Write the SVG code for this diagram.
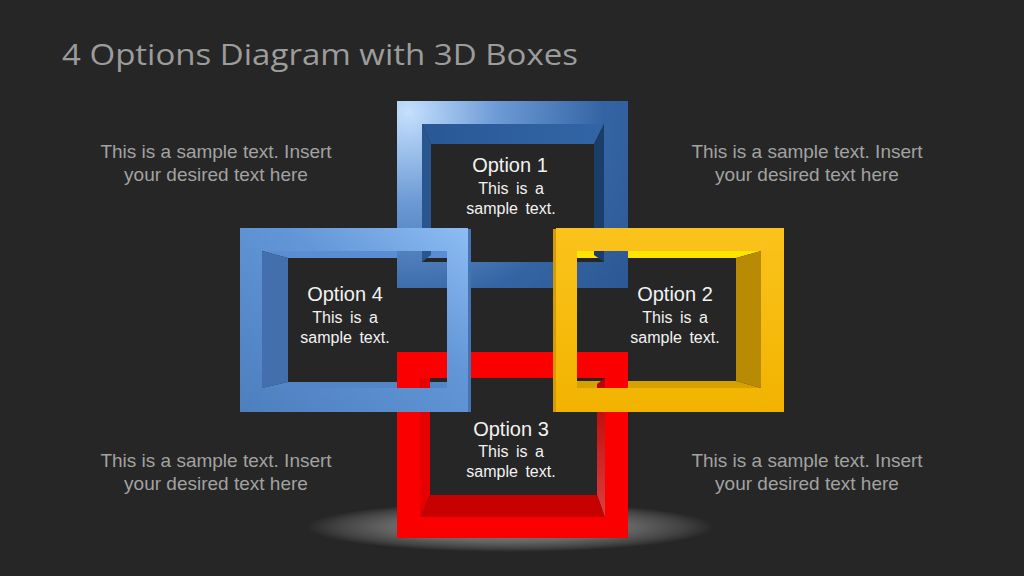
<svg xmlns="http://www.w3.org/2000/svg" width="1024" height="576" viewBox="0 0 1024 576">
<defs>
<style>
.title{font-family:"Open Sans","Liberation Sans",sans-serif;font-size:29px;fill:#9c9c9c}
.side{font-family:"Liberation Sans",Arial,sans-serif;font-size:19px;fill:#a2a2a2;text-anchor:middle}
.opt{font-family:"Liberation Sans",Arial,sans-serif;font-size:20px;fill:#f2f2f2;text-anchor:middle}
.sub{font-family:"Liberation Sans",Arial,sans-serif;font-size:16px;fill:#f2f2f2;text-anchor:middle;word-spacing:3px}
</style>
<radialGradient id="shadow" cx="0.5" cy="0.5" r="0.5">
<stop offset="0" stop-color="#8c8c8c"/>
<stop offset="0.6" stop-color="#646464"/>
<stop offset="0.85" stop-color="#424242"/>
<stop offset="1" stop-color="#262626"/>
</radialGradient>
<radialGradient id="b1front" gradientUnits="userSpaceOnUse" cx="408" cy="112" r="300">
<stop offset="0" stop-color="#c4e0fd"/>
<stop offset="0.3" stop-color="#6c9ad5"/>
<stop offset="0.65" stop-color="#3564a4"/>
<stop offset="1" stop-color="#2a5690"/>
</radialGradient>
<linearGradient id="b4front" x1="0" y1="1" x2="1" y2="0">
<stop offset="0" stop-color="#4d7fbf"/>
<stop offset="0.6" stop-color="#6396d7"/>
<stop offset="1" stop-color="#8ebdf3"/>
</linearGradient>
<linearGradient id="b2front" x1="0" y1="0" x2="0" y2="1">
<stop offset="0" stop-color="#fac31c"/>
<stop offset="1" stop-color="#f2b300"/>
</linearGradient>
<linearGradient id="b3right" x1="0" y1="0" x2="0" y2="1">
<stop offset="0" stop-color="#b80000"/>
<stop offset="1" stop-color="#dc4040"/>
</linearGradient>
<linearGradient id="b1top" x1="0" y1="0" x2="1" y2="0">
<stop offset="0" stop-color="#2a5896"/>
<stop offset="1" stop-color="#3265a6"/>
</linearGradient>
</defs>
<rect width="1024" height="576" fill="#262626"/>
<text class="title" x="62" y="65" textLength="516" lengthAdjust="spacingAndGlyphs">4 Options Diagram with 3D Boxes</text>
<g id="texts">
<text class="side" x="216" y="158">This is a sample text. Insert</text>
<text class="side" x="216" y="181">your desired text here</text>
<text class="side" x="807" y="158">This is a sample text. Insert</text>
<text class="side" x="807" y="181">your desired text here</text>
<text class="side" x="216" y="467">This is a sample text. Insert</text>
<text class="side" x="216" y="490">your desired text here</text>
<text class="side" x="807" y="467">This is a sample text. Insert</text>
<text class="side" x="807" y="490">your desired text here</text>
</g>
<ellipse cx="510" cy="527" rx="204" ry="25" fill="url(#shadow)"/>
<g id="box4-back">
<polygon points="262,251 447,251 447,258 288,258" fill="#5a8dd1"/>
<polygon points="262,251 288,258 288,382 262,388" fill="#4370ad"/>
<polygon points="262,388 288,382 447,382 447,388" fill="#5385c7"/>
</g>
<g id="box2-back">
<polygon points="577,251 761,251 736,258 577,258" fill="#ffe400"/>
<polygon points="761,251 761,388 736,381 736,258" fill="#b98b05"/>
<polygon points="577,388 761,388 736,381 577,381" fill="#d6a200"/>
</g>
<g id="box1">
<polygon points="422,124 604,124 594,144 431,144" fill="url(#b1top)"/>
<polygon points="422,124 431,144 431,255 422,262" fill="#2a5690"/>
<polygon points="604,124 604,262 594,255 594,144" fill="#1b3d6a"/>
<path d="M397,101 H628 V288 H397 Z M422,124 V262 H604 V124 Z" fill="url(#b1front)" fill-rule="evenodd"/>
<text class="opt" x="510" y="172">Option 1</text>
<text class="sub" x="511" y="194">This is a</text>
<text class="sub" x="511" y="214">sample text.</text>
</g>
<g id="box3">
<polygon points="420,378 430,378 430,495 420,517" fill="#e60000"/>
<polygon points="605,378 605,517 597,495 597,384" fill="url(#b3right)"/>
<polygon points="420,517 605,517 597,495 430,495" fill="#c70000"/>
<path d="M397,352 H628 V538 H397 Z M420,378 V517 H605 V378 Z" fill="#fb0000" fill-rule="evenodd"/>
<text class="opt" x="511" y="436">Option 3</text>
<text class="sub" x="511" y="457">This is a</text>
<text class="sub" x="511" y="477">sample text.</text>
</g>
<g id="box4">
<path d="M240,228 H468 V412 H240 Z M262,251 V388 H447 V251 Z" fill="url(#b4front)" fill-rule="evenodd"/>
<rect x="468" y="229" width="3" height="183" fill="#4474b3"/>
<text class="opt" x="345" y="301">Option 4</text>
<text class="sub" x="345" y="323">This is a</text>
<text class="sub" x="345" y="343">sample text.</text>
</g>
<g id="box2">
<path d="M556,228 H784 V412 H556 Z M577,251 V388 H761 V251 Z" fill="url(#b2front)" fill-rule="evenodd"/>
<rect x="553" y="229" width="3" height="183" fill="#d49c00"/>
<text class="opt" x="675" y="301">Option 2</text>
<text class="sub" x="675" y="323">This is a</text>
<text class="sub" x="675" y="343">sample text.</text>
</g>
<g id="connectors"/>
</svg>
